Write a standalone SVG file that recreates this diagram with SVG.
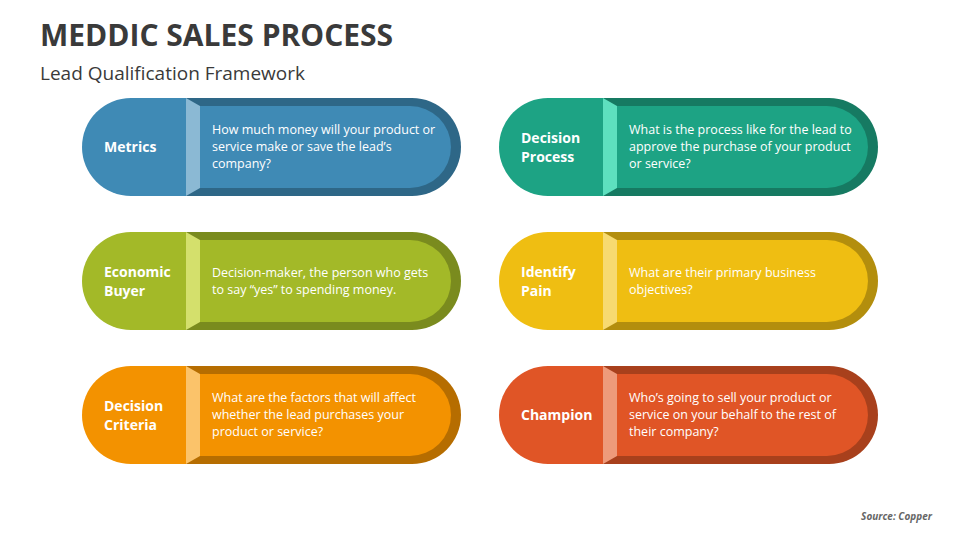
<svg xmlns="http://www.w3.org/2000/svg" width="960" height="540" viewBox="0 0 960 540">
<style>
.t{font-family:"Open Sans","Liberation Sans",sans-serif;fill:#3a3a3a}
.l{font-family:"Open Sans","Liberation Sans",sans-serif;font-weight:bold;font-size:14px;fill:#fff}
.d{font-family:"Open Sans","Liberation Sans",sans-serif;font-size:12.5px;fill:#fff}
</style>
<defs>
<g id="shape">
<path d="M104,0 H330 A49,49 0 0 1 330,98 H104 Z" fill="var(--dk)"/>
<path d="M118,8 H328 A41,41 0 0 1 328,90 H118 Z" fill="var(--mn)"/>
<path d="M49,0 H104 V98 H49 A49,49 0 0 1 49,0 Z" fill="var(--mn)"/>
<path d="M104,0 L118,8 V90 L104,98 Z" fill="var(--st)"/>
</g>
</defs>
<rect width="960" height="540" fill="#fff"/>
<text class="t" x="40" y="46" font-size="30" font-weight="bold">MEDDIC SALES PROCESS</text>
<text class="t" x="40" y="80" font-size="19">Lead Qualification Framework</text>
<g id="metrics" transform="translate(82,98)" style="--mn:#3F8AB5;--dk:#2E6787;--st:#8BB9D4">
<use href="#shape"/>
<text class="l" x="22" y="54">Metrics</text>
<text class="d" x="130" y="36">How much money will your product or</text>
<text class="d" x="130" y="53">service make or save the lead’s</text>
<text class="d" x="130" y="70">company?</text>
</g>
<g id="decision-process" transform="translate(499,98)" style="--mn:#1DA384;--dk:#167A62;--st:#5EE0BF">
<use href="#shape"/>
<text class="l" x="22" y="45">Decision</text>
<text class="l" x="22" y="64">Process</text>
<text class="d" x="130" y="36">What is the process like for the lead to</text>
<text class="d" x="130" y="53">approve the purchase of your product</text>
<text class="d" x="130" y="70">or service?</text>
</g>
<g id="economic-buyer" transform="translate(82,232)" style="--mn:#A3B928;--dk:#7A8B1E;--st:#D4E06C">
<use href="#shape"/>
<text class="l" x="22" y="45">Economic</text>
<text class="l" x="22" y="64">Buyer</text>
<text class="d" x="130" y="45">Decision-maker, the person who gets</text>
<text class="d" x="130" y="62">to say “yes” to spending money.</text>
</g>
<g id="identify-pain" transform="translate(499,232)" style="--mn:#EFBE12;--dk:#B38E0D;--st:#F7DA70">
<use href="#shape"/>
<text class="l" x="22" y="45">Identify</text>
<text class="l" x="22" y="64">Pain</text>
<text class="d" x="130" y="45">What are their primary business</text>
<text class="d" x="130" y="62">objectives?</text>
</g>
<g id="decision-criteria" transform="translate(82,366)" style="--mn:#F39200;--dk:#B66D00;--st:#FBC36A">
<use href="#shape"/>
<text class="l" x="22" y="45">Decision</text>
<text class="l" x="22" y="64">Criteria</text>
<text class="d" x="130" y="36">What are the factors that will affect</text>
<text class="d" x="130" y="53">whether the lead purchases your</text>
<text class="d" x="130" y="70">product or service?</text>
</g>
<g id="champion" transform="translate(499,366)" style="--mn:#E05526;--dk:#A8401C;--st:#EE9A7A">
<use href="#shape"/>
<text class="l" x="22" y="54">Champion</text>
<text class="d" x="130" y="36">Who’s going to sell your product or</text>
<text class="d" x="130" y="53">service on your behalf to the rest of</text>
<text class="d" x="130" y="70">their company?</text>
</g>
<g id="connectors"/>
<text x="932" y="520" text-anchor="end" font-family="Open Sans, Liberation Sans, sans-serif" font-size="10" font-weight="bold" font-style="italic" fill="#666">Source: Copper</text>
</svg>
